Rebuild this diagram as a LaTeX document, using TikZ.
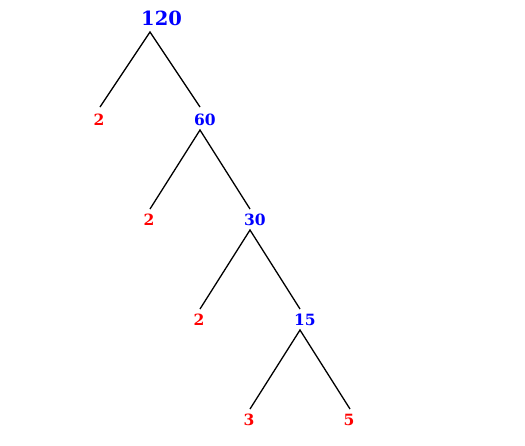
\documentclass[tikz,border=0pt]{standalone}
\usepackage{fontspec}
\setmainfont{DejaVu Serif}
\begin{document}
\begin{tikzpicture}[x=1pt,y=-1pt,
  comp/.style={anchor=west,inner sep=0pt,text=blue,font=\bfseries\fontsize{15.5}{18}\selectfont},
  root/.style={comp,font=\bfseries\fontsize{19.5}{23}\selectfont},
  prime/.style={anchor=west,inner sep=0pt,text=red,font=\bfseries\fontsize{15.5}{18}\selectfont},
  edge/.style={draw=black,line width=1.3pt}]
\useasboundingbox (0,0) rectangle (525,445);
% texts
\node[root]  (n120) at (141,18.5) {120};
\node[prime] (p1)   at (93.5,119.5)   {2};
\node[comp]  (n60)  at (194,119.5) {60};
\node[prime] (p2)   at (143.5,219.5)  {2};
\node[comp]  (n30)  at (244,219.5) {30};
\node[prime] (p3)   at (193.5,319.5)  {2};
\node[comp]  (n15)  at (294,319.5) {15};
\node[prime] (p4)   at (243.5,419.5)  {3};
\node[prime] (p5)   at (343.5,419.5)  {5};
% joints
\coordinate (a120) at (150,32);
\coordinate (e1) at (100,107);
\coordinate (e60) at (200,107);
\coordinate (a60) at (200,130);
\coordinate (e2) at (150,209);
\coordinate (e30) at (250,209);
\coordinate (a30) at (250,230);
\coordinate (e3) at (200,309);
\coordinate (e15) at (300,309);
\coordinate (a15) at (300,330);
\coordinate (e4) at (250,409);
\coordinate (e5) at (350,409);
\draw[edge] (e1) -- (a120) -- (e60);
\draw[edge] (e2) -- (a60) -- (e30);
\draw[edge] (e3) -- (a30) -- (e15);
\draw[edge] (e4) -- (a15) -- (e5);
\end{tikzpicture}
\end{document}
